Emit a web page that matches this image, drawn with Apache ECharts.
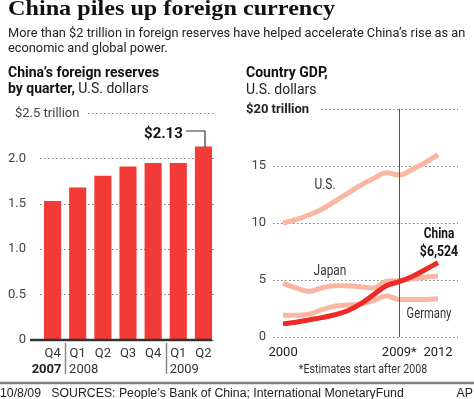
<!DOCTYPE html>
<html lang="en">
  <head>
    <meta charset="UTF-8" />
    <title>China piles up foreign currency</title>
    <script src="https://cdn.jsdelivr.net/npm/echarts@6/dist/echarts.min.js"></script>
    <style>
      html, body { margin: 0; padding: 0; background: #fff; }
      #main { width: 474px; height: 399px; }
    </style>
  </head>
  <body>
    <div id="main"></div>
    <script>
      // 左图：外汇储备（万亿美元）
      var quarters = ["Q4", "Q1", "Q2", "Q3", "Q4", "Q1", "Q2"];
      var quarterYears = ["2007", "2008", "", "", "", "2009", ""];
      var reserves = [1.53, 1.68, 1.81, 1.91, 1.95, 1.95, 2.13];

      // 右图：GDP（万亿美元）
      var years = [2000, 2001, 2002, 2003, 2004, 2005, 2006, 2007, 2008, 2009, 2010, 2011, 2012];
      var usGdp = [10.0, 10.3, 10.7, 11.2, 11.9, 12.6, 13.3, 13.9, 14.4, 14.2, 14.7, 15.3, 16.0];
      var japanGdp = [4.7, 4.3, 4.0, 4.3, 4.5, 4.5, 4.4, 4.3, 4.9, 4.95, 5.1, 5.25, 5.35];
      var germanyGdp = [1.9, 1.9, 2.0, 2.4, 2.7, 2.8, 2.9, 3.2, 3.6, 3.3, 3.3, 3.3, 3.35];
      var chinaGdp = [1.15, 1.3, 1.5, 1.7, 1.95, 2.3, 2.9, 3.7, 4.5, 4.85, 5.3, 5.9, 6.524];
      var gdpYearLabels = [2000, 2009, 2012];

      var font = "Roboto, 'Liberation Sans', sans-serif";
      var red = "#f23b36";
      var pink = "#f9b6a3";

      function pairs(arr) {
        return years.map(function (y, i) {
          return [y, arr[i]];
        });
      }

      function label(txt, x, y, f, fill, sx) {
        return {
          type: "text", x: x, y: y, scaleX: sx || 1,
          style: { text: txt, font: f, fill: fill || "#333", align: "center", verticalAlign: "middle" }
        };
      }

      var myChart = echarts.init(document.getElementById("main"));

      var option = {
        animation: false,
        textStyle: { fontFamily: font },
        grid: [
          { left: 40, width: 176, top: 113, height: 227 },
          { left: 273, width: 185, top: 109, height: 228 }
        ],
        xAxis: [
          {
            gridIndex: 0,
            type: "category",
            data: quarters,
            axisLine: { show: false },
            axisTick: { show: false },
            axisLabel: {
              interval: 0,
              margin: 6,
              color: "#333",
              fontSize: 13,
              lineHeight: 16,
              formatter: function (v, i) {
                var yr = quarterYears[i];
                if (!yr) return v + "\n ";
                if (i === 0) return v + "\n{b|" + yr + "}";
                return v + "\n{y|" + yr + "}";
              },
              rich: {
                b: { fontFamily: font, fontSize: 13, fontWeight: "bold", color: "#222", padding: [0, 12, 0, 0] },
                y: { fontFamily: font, fontSize: 13, color: "#333", padding: [0, 0, 0, 12] }
              }
            }
          },
          {
            gridIndex: 1,
            type: "value",
            min: 1999.22,
            max: 2013.55,
            axisLine: { show: false },
            axisTick: { show: false },
            splitLine: { show: false },
            axisLabel: {
              customValues: gdpYearLabels,
              margin: 9,
              color: "#222",
              fontSize: 13,
              formatter: function (v) {
                return v === 2009 ? "2009*" : String(v);
              }
            }
          }
        ],
        yAxis: [
          {
            gridIndex: 0,
            type: "value",
            min: 0,
            max: 2.5,
            interval: 0.5,
            axisLine: { show: false },
            axisTick: { show: false },
            axisLabel: {
              margin: 14,
              color: "#444",
              fontSize: 13,
              formatter: function (v) {
                if (v === 0) return "0";
                if (v === 2.5) return "";
                return v.toFixed(1);
              }
            },
            splitLine: { lineStyle: { color: "#777", type: [1.5, 2.5], width: 1 } }
          },
          {
            gridIndex: 1,
            type: "value",
            min: 0,
            max: 20,
            interval: 5,
            axisLine: { show: false },
            axisTick: { show: false },
            axisLabel: {
              margin: 7,
              color: "#444",
              fontSize: 13,
              formatter: function (v) {
                return v === 20 ? "" : String(v);
              }
            },
            splitLine: { lineStyle: { color: "#777", type: [1.5, 2.5], width: 1 } }
          }
        ],
        series: [
          {
            type: "bar",
            xAxisIndex: 0,
            yAxisIndex: 0,
            barCategoryGap: "32%",
            itemStyle: { color: red },
            data: reserves.map(function (v, i) {
              if (i !== reserves.length - 1) return v;
              return {
                value: v,
                label: {
                  show: true,
                  position: "top",
                  offset: [-40, 0],
                  formatter: "$" + v.toFixed(2),
                  fontFamily: font,
                  fontWeight: "bold",
                  fontSize: 15,
                  color: "#111"
                }
              };
            })
          },
          {
            name: "U.S.",
            type: "line",
            xAxisIndex: 1,
            yAxisIndex: 1,
            smooth: 0.4,
            symbol: "none",
            lineStyle: { color: pink, width: 5 },
            data: pairs(usGdp),
            markLine: {
              silent: true,
              symbol: "none",
              label: { show: false },
              lineStyle: { color: "#555", type: "solid", width: 1 },
              data: [{ xAxis: 2009 }]
            }
          },
          {
            name: "Japan",
            type: "line",
            xAxisIndex: 1,
            yAxisIndex: 1,
            smooth: 0.4,
            symbol: "none",
            lineStyle: { color: pink, width: 5 },
            data: pairs(japanGdp)
          },
          {
            name: "Germany",
            type: "line",
            xAxisIndex: 1,
            yAxisIndex: 1,
            smooth: 0.4,
            symbol: "none",
            lineStyle: { color: pink, width: 5 },
            data: pairs(germanyGdp)
          },
          {
            name: "China",
            type: "line",
            xAxisIndex: 1,
            yAxisIndex: 1,
            smooth: 0.4,
            symbol: "none",
            z: 5,
            lineStyle: { color: "#ee2a24", width: 5 },
            data: pairs(chinaGdp)
          }
        ],
        graphic: [
          // 标题
          { id: "title", type: "text", x: 8, y: -2, scaleX: 1.1, style: { text: "China piles up foreign currency", font: "bold 22px 'Liberation Serif', serif", fill: "#111" } },
          { id: "sub1", type: "text", x: 8, y: 27, style: { text: "More than $2 trillion in foreign reserves have helped accelerate China\u2019s rise as an", font: "12.8px " + font, fill: "#222" } },
          { id: "sub2", type: "text", x: 8, y: 42, style: { text: "economic and global power.", font: "12.8px " + font, fill: "#222" } },
          // 左图标题
          { id: "lh1", type: "text", x: 8, y: 66, style: { text: "China\u2019s foreign reserves", font: "bold 14px " + font, fill: "#111" } },
          {
            id: "lh2", type: "text", x: 8, y: 82,
            style: {
              text: "{b|by quarter,} {r|U.S. dollars}",
              rich: {
                b: { font: "bold 14px " + font, fill: "#111" },
                r: { font: "14px " + font, fill: "#222" }
              }
            }
          },
          { id: "ltop", type: "text", x: 15, y: 106, z: 10, style: { text: "$2.5 trillion", font: "13px " + font, fill: "#444", backgroundColor: "#fff", padding: [1, 8, 1, 0] } },
          // 左图基线
          { id: "base", type: "line", z: 10, shape: { x1: 30, y1: 340, x2: 212, y2: 340 }, style: { stroke: "#333", lineWidth: 2.5 } },
          // 年份分隔线（位置在下面按坐标轴换算）
          { id: "sep1", type: "line", shape: { x1: 0, y1: 343, x2: 0, y2: 374 }, style: { stroke: "#888", lineWidth: 1.5 } },
          { id: "sep2", type: "line", shape: { x1: 0, y1: 343, x2: 0, y2: 374 }, style: { stroke: "#888", lineWidth: 1.5 } },
          // $2.13 引线
          { id: "callout", type: "polyline", z: 10, shape: { points: [[186, 131], [205, 131], [205, 147]] }, style: { stroke: "#333", lineWidth: 1.2, fill: null } },
          // 右图标题
          { id: "rh1", type: "text", x: 246, y: 66, style: { text: "Country GDP,", font: "bold 14px " + font, fill: "#111" } },
          { id: "rh2", type: "text", x: 246, y: 83, style: { text: "U.S. dollars", font: "14px " + font, fill: "#222" } },
          { id: "rtop", type: "text", x: 246, y: 102, z: 10, style: { text: "$20 trillion", font: "bold 13px " + font, fill: "#222", backgroundColor: "#fff", padding: [1, 10, 1, 0] } },
          // 线条标签
          label("U.S.", 325, 185, "14px " + font, "#333", 0.85),
          label("Japan", 330, 271, "14px " + font, "#333", 0.85),
          label("Germany", 429, 314, "14px " + font, "#333", 0.8),
          label("China", 439, 234, "bold 14px " + font, "#111", 0.85),
          label("$6,524", 439, 252, "bold 15px " + font, "#111", 0.82),
          label("*Estimates start after 2008", 363, 370, "13px " + font, "#333", 0.82),
          // 页脚
          { type: "line", shape: { x1: 0, y1: 383, x2: 474, y2: 383 }, style: { stroke: "#808080", lineWidth: 2.5 } },
          { type: "text", x: 0, y: 394, style: { text: "10/8/09   SOURCES: People\u2019s Bank of China; International MonetaryFund", font: "12.3px 'Liberation Sans', sans-serif", fill: "#222", verticalAlign: "middle" } },
          { type: "text", x: 473, y: 394, style: { text: "AP", font: "12.3px 'Liberation Sans', sans-serif", fill: "#222", align: "right", verticalAlign: "middle" } }
        ]
      };

      myChart.setOption(option);

      // 年份分隔线：取相邻两根柱子中心的中点
      function sepX(i) {
        var a = myChart.convertToPixel({ xAxisIndex: 0 }, i - 1);
        var b = myChart.convertToPixel({ xAxisIndex: 0 }, i);
        return Math.round((a + b) / 2) + 0.5;
      }
      var x1 = sepX(1);
      var x5 = sepX(5);
      myChart.setOption({
        graphic: [
          { id: "sep1", shape: { x1: x1, y1: 343, x2: x1, y2: 374 } },
          { id: "sep2", shape: { x1: x5, y1: 343, x2: x5, y2: 374 } }
        ]
      });
    </script>
  </body>
</html>
